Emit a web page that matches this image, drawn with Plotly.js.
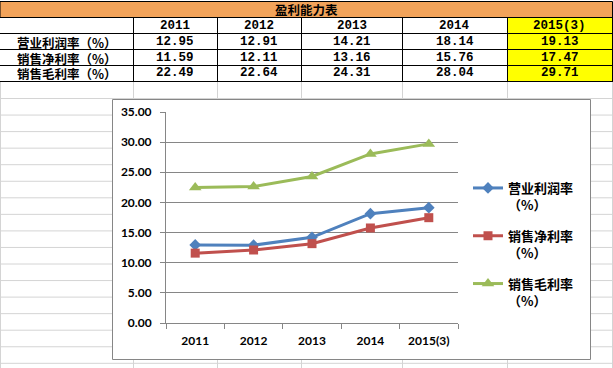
<!DOCTYPE html>
<html>
<head>
<meta charset="utf-8">
<script src="https://cdn.plot.ly/plotly-3.0.1.min.js"></script>
<style>
html,body{margin:0;padding:0;background:#fff;}
#chart{width:613px;height:368px;}
</style>
</head>
<body>
<div id="chart"></div>
<script>
// ---- data ----
const tableTitle = '盈利能力表';
const years = ['2011', '2012', '2013', '2014', '2015(3)'];
const seriesNames = ['营业利润率（%）', '销售净利率（%）', '销售毛利率（%）'];
const operatingProfitRate = [12.95, 12.91, 14.21, 18.14, 19.13];
const netProfitRate = [11.59, 12.11, 13.16, 15.76, 17.47];
const grossProfitRate = [22.49, 22.64, 24.31, 28.04, 29.71];
const yTicks = [0, 5, 10, 15, 20, 25, 30, 35];

// ---- styling ----
const W = 613, H = 368;
const px = x => x / W;
const py = y => 1 - y / H;
const colors = ['#4F81BD', '#C0504D', '#9BBB59'];
const symbols = ['diamond', 'square', 'triangle-up'];
const msizes = [9, 9, 11];
const seriesData = [operatingProfitRate, netProfitRate, grossProfitRate];
const monoFont = {family: '"Liberation Mono", "Noto Sans CJK SC", monospace', size: 12.5, color: '#000'};
const cjkFont = {family: '"Noto Sans CJK SC", sans-serif', size: 12.5, color: '#000'};
const colEdges = [0, 133, 217, 301, 402, 507, 612];
const rowEdges = [17, 33, 49, 65, 81];
const yellow = '#FFFF00';
const bold = s => '<b>' + s + '</b>';

const traces = [];
seriesNames.forEach((n, i) => {
  traces.push({
    type: 'scatter', mode: 'lines+markers',
    x: years, y: seriesData[i],
    name: bold(n.replace('（', '<br>（')),
    legendgroup: 'g' + i,
    line: {color: colors[i], width: 3},
    marker: {symbol: symbols[i], size: msizes[i], color: colors[i]},
    xaxis: 'x', yaxis: 'y'
  });
});

const shapes = [];
const annotations = [];
// spreadsheet background grid
const gridCol = '#D4D4D4';
for (let k = 0; k < 17; k++) {
  const y = 98.5 + k * 16.55;
  shapes.push({type: 'line', xref: 'paper', yref: 'paper', x0: 0, x1: 1, y0: py(y), y1: py(y),
    line: {color: gridCol, width: 1}, layer: 'below'});
}
colEdges.forEach(x => {
  shapes.push({type: 'line', xref: 'paper', yref: 'paper', x0: px(x + 0.5), x1: px(x + 0.5), y0: py(81), y1: 0,
    line: {color: gridCol, width: 1}, layer: 'below'});
});
// chart box
shapes.push({type: 'rect', xref: 'paper', yref: 'paper', x0: px(112.5), x1: px(590.5), y0: py(359.5), y1: py(99.5),
  line: {color: '#868686', width: 1}, fillcolor: '#FFFFFF', layer: 'below'});

// ---- table (title row + grid) ----
shapes.push({type: 'rect', xref: 'paper', yref: 'paper', x0: px(0), x1: px(612.5), y0: py(17.5), y1: py(1.5),
  line: {color: '#000', width: 1}, fillcolor: '#F2A35A', layer: 'below'});
annotations.push({xref: 'paper', yref: 'paper', x: px(306), y: py(9.5), xanchor: 'center', yanchor: 'middle',
  text: bold(tableTitle), showarrow: false, font: cjkFont, height: 14, valign: 'middle'});
// yellow column
const lastC = colEdges.length - 2;
shapes.push({type: 'rect', xref: 'paper', yref: 'paper', x0: px(colEdges[lastC] + 0.5), x1: px(colEdges[lastC + 1] + 0.5),
  y0: py(rowEdges[rowEdges.length - 1] + 0.5), y1: py(rowEdges[0] + 0.5),
  line: {width: 0}, fillcolor: yellow, layer: 'below'});
rowEdges.forEach(y => {
  shapes.push({type: 'line', xref: 'paper', yref: 'paper', x0: 0, x1: px(613), y0: py(y + 0.5), y1: py(y + 0.5),
    line: {color: '#000', width: 1}, layer: 'below'});
});
colEdges.slice(1).forEach(x => {
  shapes.push({type: 'line', xref: 'paper', yref: 'paper', x0: px(x + 0.5), x1: px(x + 0.5),
    y0: py(rowEdges[rowEdges.length - 1] + 0.5), y1: py(rowEdges[0] + 0.5),
    line: {color: '#000', width: 1}, layer: 'below'});
});
const colCenter = c => (colEdges[c] + colEdges[c + 1]) / 2;
const rowCenter = r => (rowEdges[r] + rowEdges[r + 1]) / 2 + 0.5;
const cellAnn = (x, y, text, font) => ({xref: 'paper', yref: 'paper', x: px(x), y: py(y),
  xanchor: 'center', yanchor: 'middle', text: text, showarrow: false, font: font,
  height: 14, valign: 'middle', borderpad: 0});
years.forEach((yr, j) => {
  annotations.push(cellAnn(colCenter(j + 1), rowCenter(0), bold(yr), monoFont));
});
seriesNames.forEach((n, i) => {
  annotations.push(cellAnn(colCenter(0), rowCenter(i + 1), bold(n), cjkFont));
  seriesData[i].forEach((v, j) => {
    annotations.push(cellAnn(colCenter(j + 1), rowCenter(i + 1), bold(v.toFixed(2)), monoFont));
  });
});

const tickFont = {family: 'Lato, "Open Sans", sans-serif', size: 12, color: '#000', weight: 'bold'};
const layout = {
  width: W, height: H,
  margin: {l: 0, r: 0, t: 0, b: 0, pad: 0},
  paper_bgcolor: '#FFFFFF', plot_bgcolor: 'rgba(0,0,0,0)',
  showlegend: true,
  xaxis: {
    type: 'category', domain: [px(166), px(458)], anchor: 'y', range: [-0.5, 4.5],
    showline: true, linecolor: '#868686', linewidth: 1,
    ticks: 'outside', tickson: 'boundaries', ticklen: 5, tickcolor: '#868686',
    showgrid: false, zeroline: false, ticklabelstandoff: 7,
    tickfont: tickFont
  },
  yaxis: {
    domain: [py(323), py(112)], anchor: 'x', range: [0, 35],
    tickvals: yTicks, tickformat: '.2f',
    showline: true, linecolor: '#868686', linewidth: 1,
    ticks: 'outside', ticklen: 5, tickcolor: '#868686',
    showgrid: true, gridcolor: '#868686', gridwidth: 1, zeroline: false,
    ticklabelstandoff: 6,
    tickfont: tickFont
  },
  legend: {
    x: px(468), y: py(173), xanchor: 'left', yanchor: 'top',
    bgcolor: 'rgba(0,0,0,0)', borderwidth: 0,
    traceorder: 'grouped', tracegroupgap: 11, valign: 'top', itemwidth: 30,
    font: {family: '"Noto Sans CJK SC", sans-serif', size: 13, color: '#000'}
  },
  shapes: shapes,
  annotations: annotations
};

Plotly.newPlot('chart', traces, layout, {staticPlot: true, displayModeBar: false});
</script>
</body>
</html>
